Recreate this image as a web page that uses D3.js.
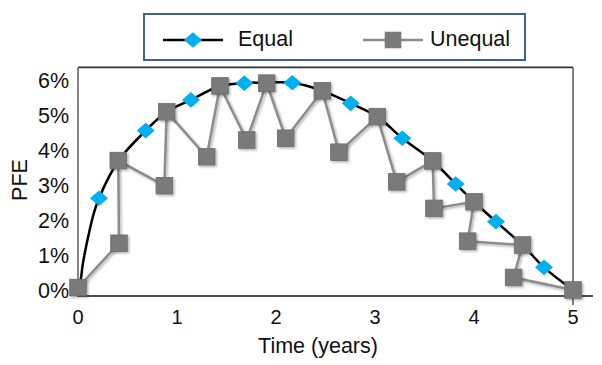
<!DOCTYPE html>
<html>
<head>
<meta charset="utf-8">
<script src="https://cdn.jsdelivr.net/npm/d3@7"></script>
<style>
  html, body { margin: 0; padding: 0; background: #fff; }
  svg { display: block; font-family: "Liberation Sans", Arial, sans-serif; }
</style>
</head>
<body>
<svg id="chart" width="602" height="365"></svg>
<script>
// ---- data ----
const xTicks = [0, 1, 2, 3, 4, 5];
const yTicks = [0, 0.01, 0.02, 0.03, 0.04, 0.05, 0.06];

// Equal: diamond markers
const equalTimes = [0.212, 0.684, 1.141, 1.68, 2.165, 2.755, 3.276, 3.815, 4.222, 4.707];
const equalPFE   = [0.0263, 0.0457, 0.0545, 0.0593, 0.0594, 0.0535, 0.0435, 0.0304, 0.0196, 0.0065];

// Equal: smooth profile line
const equalCurveTimes = [0, 0.027, 0.05, 0.118, 0.16, 0.212, 0.41, 0.684, 0.896, 1.141, 1.434, 1.68, 1.906, 2.165, 2.468, 2.755, 3.023, 3.276, 3.583, 3.815, 4.0, 4.222, 4.49, 4.707, 5.0];
const equalCurvePFE   = [0, 0.0029, 0.0077, 0.0172, 0.022, 0.0263, 0.0371, 0.0457, 0.0511, 0.0545, 0.0585, 0.0593, 0.0595, 0.0594, 0.0571, 0.0535, 0.0497, 0.0435, 0.037, 0.0304, 0.0253, 0.0196, 0.0129, 0.0065, 0];

// Unequal: square markers, in drawing order
const unequalTimes = [0.0, 0.414, 0.407, 0.872, 0.896, 1.30, 1.434, 1.704, 1.906, 2.098, 2.468, 2.636, 3.023, 3.219, 3.583, 3.596, 4.0, 3.936, 4.49, 4.40, 5.0];
const unequalPFE   = [0.0007, 0.0134, 0.0371, 0.0299, 0.0511, 0.0382, 0.0585, 0.043, 0.0593, 0.0435, 0.0571, 0.0395, 0.0497, 0.031, 0.037, 0.0234, 0.0253, 0.014, 0.0129, 0.0036, 0.0];

const seriesNames = ["Equal", "Unequal"];

// ---- layout ----
const svg = d3.select("#chart");
const x = d3.scaleLinear().domain([0, 5]).range([78, 573]);
const y = d3.scaleLinear().domain([0, 0.06]).range([290, 80.7]);
const plotTop = y(0.0638);
const axisY = y(0) + 6;

const defs = svg.append("defs");
const f = defs.append("filter").attr("id", "sh").attr("x", "-50%").attr("y", "-50%").attr("width", "200%").attr("height", "200%");
f.append("feDropShadow").attr("dx", 1.5).attr("dy", 1.5).attr("stdDeviation", 1.2)
  .attr("flood-color", "#000").attr("flood-opacity", 0.3);

// frame
svg.append("line").attr("x1", x(0)).attr("x2", x(5)).attr("y1", plotTop).attr("y2", plotTop)
  .attr("stroke", "#333").attr("stroke-width", 1.8);
svg.append("line").attr("x1", x(5)).attr("x2", x(5)).attr("y1", plotTop).attr("y2", axisY + 9)
  .attr("stroke", "#555").attr("stroke-width", 1.5);
svg.append("line").attr("x1", x(0)).attr("x2", x(0)).attr("y1", plotTop).attr("y2", axisY)
  .attr("stroke", "#444").attr("stroke-width", 1.3);
svg.append("line").attr("x1", x(0) - 1).attr("x2", 593).attr("y1", axisY).attr("y2", axisY)
  .attr("stroke", "#111").attr("stroke-width", 1.5);

// y tick labels
svg.append("g").selectAll("text").data(yTicks).join("text")
  .attr("x", 69).attr("y", d => y(d)).attr("dy", "0.36em")
  .attr("text-anchor", "end").attr("font-size", 21.5).attr("fill", "#111")
  .text(d => d3.format(".0%")(d));

// x tick labels
svg.append("g").selectAll("text").data(xTicks).join("text")
  .attr("x", d => x(d)).attr("y", 324)
  .attr("text-anchor", "middle").attr("font-size", 20).attr("fill", "#111")
  .text(d => d);

// axis titles
svg.append("text").attr("x", 318).attr("y", 353).attr("text-anchor", "middle")
  .attr("font-size", 21.5).attr("fill", "#111").text("Time (years)");
svg.append("text").attr("transform", "translate(27,180) rotate(-90)").attr("text-anchor", "middle")
  .attr("font-size", 21.5).attr("fill", "#111").text("PFE");

// Equal curve
const curvePts = equalCurveTimes.map((t, i) => [t, equalCurvePFE[i]]);
svg.append("path").datum(curvePts)
  .attr("d", d3.line().x(d => x(d[0])).y(d => y(d[1])).curve(d3.curveCatmullRom.alpha(0.5)))
  .attr("fill", "none").attr("stroke", "#000").attr("stroke-width", 2.5);

const diamond = (cx, cy) => `M${cx - 9},${cy} L${cx},${cy - 7.8} L${cx + 9},${cy} L${cx},${cy + 7.8} Z`;
svg.append("g").selectAll("path").data(equalTimes.map((t, i) => [t, equalPFE[i]])).join("path")
  .attr("d", d => diamond(x(d[0]), y(d[1])))
  .attr("fill", "#00B0F0");

// Unequal line + squares
const uPts = unequalTimes.map((t, i) => [t, unequalPFE[i]]);
svg.append("path").datum(uPts)
  .attr("d", d3.line().x(d => x(d[0])).y(d => y(d[1])))
  .attr("fill", "none").attr("stroke", "#8c8c8c").attr("stroke-width", 2.5)
  .attr("stroke-linejoin", "round").attr("filter", "url(#sh)");
svg.append("g").selectAll("rect").data(uPts).join("rect")
  .attr("x", d => x(d[0]) - 8.3).attr("y", d => y(d[1]) - 8.3)
  .attr("width", 16.6).attr("height", 16.6)
  .attr("fill", "#7a7a7a").attr("stroke", "#6e6e6e").attr("stroke-width", 0.8)
  .attr("filter", "url(#sh)");

// legend
const lg = svg.append("g");
lg.append("rect").attr("x", 144).attr("y", 14).attr("width", 381).attr("height", 46)
  .attr("fill", "#fff").attr("stroke", "#44608c").attr("stroke-width", 2);
// Equal
lg.append("line").attr("x1", 163).attr("x2", 223).attr("y1", 40).attr("y2", 40)
  .attr("stroke", "#000").attr("stroke-width", 2.5);
lg.append("path").attr("d", diamond(193, 40)).attr("fill", "#00B0F0");
lg.append("text").attr("x", 238).attr("y", 46).attr("font-size", 21.5).attr("fill", "#111").text(seriesNames[0]);
// Unequal
lg.append("line").attr("x1", 363).attr("x2", 423).attr("y1", 40).attr("y2", 40)
  .attr("stroke", "#8c8c8c").attr("stroke-width", 2.5);
lg.append("rect").attr("x", 393 - 8.3).attr("y", 40 - 8.3).attr("width", 16.6).attr("height", 16.6)
  .attr("fill", "#7a7a7a");
lg.append("text").attr("x", 430).attr("y", 46).attr("font-size", 21.5).attr("fill", "#111").text(seriesNames[1]);
</script>
</body>
</html>
